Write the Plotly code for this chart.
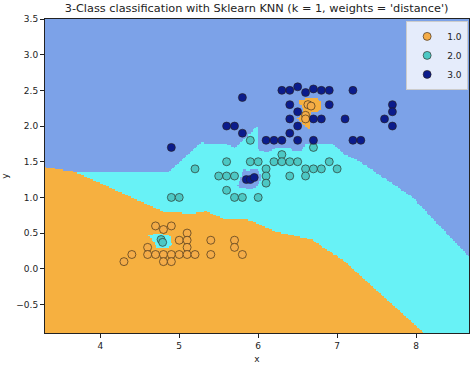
import numpy as np
import plotly.graph_objects as go

# ---- data (x, y) per class ----
class1_x = [4.7, 4.8, 4.9, 5.1, 5.0, 5.1, 5.4, 5.7, 4.6, 5.1, 5.7,
            4.4, 4.6, 4.7, 4.8, 4.9, 5.0, 5.1, 5.2, 5.4, 5.8, 4.3, 4.8, 4.9,
            6.63, 6.67, 6.6, 6.6]
class1_y = [0.6, 0.55, 0.6, 0.5, 0.4, 0.4, 0.4, 0.4, 0.3, 0.3, 0.3,
            0.2, 0.2, 0.2, 0.2, 0.2, 0.2, 0.2, 0.2, 0.2, 0.2, 0.1, 0.1, 0.1,
            2.3, 2.28, 2.15, 2.1]

class2_x = [5.9, 6.7, 6.3,
            5.6, 5.9, 6.0, 6.2, 6.3, 6.4, 6.5, 6.9,
            5.2, 6.1, 6.6, 6.7, 6.8, 7.0,
            5.5, 5.6, 5.7, 6.1, 6.4, 6.6,
            6.1, 5.6,
            4.9, 5.0, 5.7, 5.8, 6.0,
            4.77, 4.79]
class2_y = [1.8, 1.7, 1.6,
            1.5, 1.5, 1.5, 1.5, 1.5, 1.5, 1.5, 1.5,
            1.4, 1.4, 1.4, 1.4, 1.4, 1.4,
            1.3, 1.3, 1.3, 1.3, 1.3, 1.3,
            1.2, 1.1,
            1.0, 1.0, 1.0, 1.0, 1.0,
            0.41, 0.37]

class3_x = [5.8,
            6.3, 6.4, 6.5, 6.6, 6.7, 6.8, 6.9, 7.2,
            6.4, 6.9, 7.7,
            6.5, 7.7,
            6.4, 6.7, 6.8, 7.1, 7.6,
            5.6, 5.7, 6.5, 7.7,
            5.8, 6.4,
            6.1, 6.2, 6.3, 6.5, 6.7, 7.2, 7.3,
            4.9,
            5.85, 5.9, 5.95]
class3_y = [2.4,
            2.5, 2.5, 2.55, 2.47, 2.52, 2.5, 2.5, 2.5,
            2.3, 2.3, 2.3,
            2.2, 2.2,
            2.1, 2.1, 2.1, 2.1, 2.1,
            2.0, 2.0, 2.0, 2.0,
            1.9, 1.9,
            1.8, 1.8, 1.8, 1.8, 1.8, 1.8, 1.8,
            1.7,
            1.25, 1.25, 1.28]

class_names = ["1.0", "2.0", "3.0"]
region_colors = ["#F6B040", "#68F2F6", "#7CA2E8"]
point_colors = ["#F4AC48", "#4CC8C4", "#0B1C8C"]

x_range = [3.3, 8.67]
y_range = [-0.9, 3.5]

# ---- 1-NN decision surface (k=1, distance weights) on a mesh ----
X = np.array(class1_x + class2_x + class3_x)
Y = np.array(class1_y + class2_y + class3_y)
L = np.array([0] * len(class1_x) + [1] * len(class2_x) + [2] * len(class3_x))

h = 0.02
gx = np.arange(x_range[0], 8.9 + h, h)
gy = np.arange(y_range[0], y_range[1] + h, h)
GX, GY = np.meshgrid(gx, gy)
d = (GX[..., None] - X) ** 2 + (GY[..., None] - Y) ** 2
Z = L[np.argmin(d, axis=-1)]

colorscale = [[0, region_colors[0]], [1 / 3, region_colors[0]],
              [1 / 3, region_colors[1]], [2 / 3, region_colors[1]],
              [2 / 3, region_colors[2]], [1, region_colors[2]]]

fig = go.Figure()
fig.add_trace(go.Heatmap(x=gx, y=gy, z=Z, zmin=-0.5, zmax=2.5,
                         colorscale=colorscale, showscale=False,
                         hoverinfo="skip", zsmooth=False))

for xs, ys, name, col in zip([class1_x, class2_x, class3_x],
                             [class1_y, class2_y, class3_y],
                             class_names, point_colors):
    fig.add_trace(go.Scatter(
        x=xs, y=ys, mode="markers", name=name,
        marker=dict(size=8, color=col,
                    line=dict(width=1, color="rgba(40,30,20,0.6)"))))

fig.update_layout(
    width=474, height=366,
    margin=dict(l=43, r=4, t=19, b=31),
    paper_bgcolor="white", plot_bgcolor="white",
    font=dict(family="DejaVu Sans", size=9, color="#222"),
    title=dict(text="3-Class classification with Sklearn KNN (k = 1, weights = 'distance')",
               x=0.5413, xanchor="center", y=0.978, yanchor="middle",
               font=dict(size=11.3, color="#222")),
    legend=dict(x=0.998, y=0.994, xanchor="right", yanchor="top",
                bgcolor="rgba(255,255,255,0.8)", bordercolor="#cccccc",
                borderwidth=1, font=dict(size=9), itemwidth=30,
                tracegroupgap=2),
    showlegend=True,
)
fig.update_xaxes(range=x_range, tickvals=[4, 5, 6, 7, 8], ticks="outside",
                 ticklen=4, tickcolor="#222", showline=True, linecolor="#222",
                 linewidth=1, mirror=True, showgrid=False, zeroline=False,
                 title=dict(text="x", standoff=5, font=dict(size=9)))
fig.update_yaxes(range=y_range, tickvals=[-0.5, 0, 0.5, 1, 1.5, 2, 2.5, 3, 3.5],
                 tickformat=".1f", ticks="outside", ticklen=4, tickcolor="#222",
                 showline=True, linecolor="#222", linewidth=1, mirror=True,
                 showgrid=False, zeroline=False,
                 title=dict(text="y", standoff=6, font=dict(size=9)))

fig.write_html("out.html", config={"displayModeBar": False},
               post_script="document.body.style.margin='0';document.body.style.padding='0';")
